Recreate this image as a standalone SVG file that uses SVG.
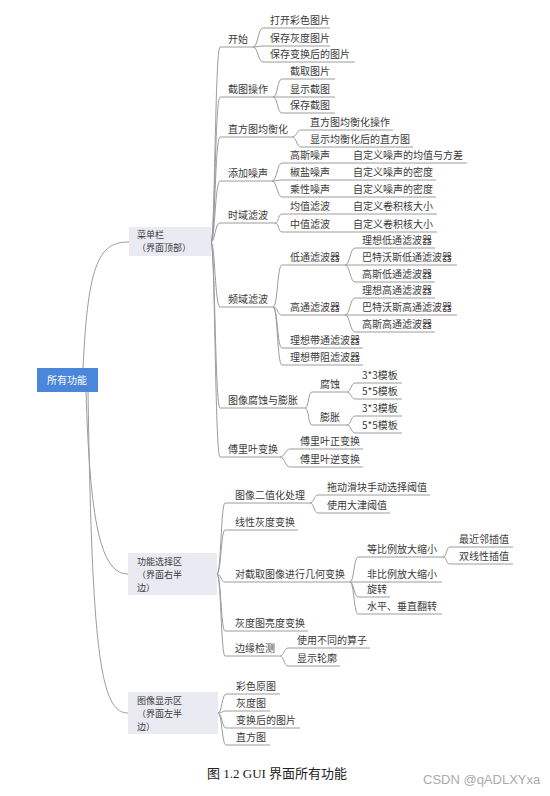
<svg xmlns="http://www.w3.org/2000/svg" width="550" height="796" viewBox="0 0 550 796">
<style>
.t{font-family:"Noto Sans CJK SC","Noto Sans",sans-serif;font-size:10px;fill:#3a3a3a}
.b{font-family:"Noto Sans CJK SC","Noto Sans",sans-serif;font-size:9px;fill:#3a3a3a}
.w{font-family:"Noto Sans CJK SC","Noto Sans",sans-serif;font-size:10px;fill:#ffffff}
.l{fill:none;stroke:#9c9c9c;stroke-width:1}
.box{fill:#e9eaf2}
.cap{font-family:"Liberation Serif","Noto Sans CJK SC",serif;font-size:13px;fill:#222}
.wm{font-family:"Liberation Sans",sans-serif;font-size:13px;fill:#aaaaaa}
</style>
<rect width="550" height="796" fill="#ffffff"/>
<g id="connectors">
<path class="l" d="M83,368 C88,260 100,242 129,242"/>
<path class="l" d="M86,392 C90,520 100,574 128,574"/>
<path class="l" d="M88,392 C92,650 100,713 128,713"/>
<path class="l" d="M211,242 C215,242 215,47 220,47 L253,47"/>
<path class="l" d="M211,242 C215,242 215,97 220,97 L273,97"/>
<path class="l" d="M211,242 C215,242 215,137 220,137 L292,137"/>
<path class="l" d="M211,242 C215,242 215,181 220,181 L272,181"/>
<path class="l" d="M211,242 C215,242 215,223 220,223 L275,223"/>
<path class="l" d="M211,242 C215,242 215,307 220,307 L273,307"/>
<path class="l" d="M211,242 C215,242 215,408 220,408 L305,408"/>
<path class="l" d="M211,242 C215,242 215,457 220,457 L280,457"/>
<path class="l" d="M253,47 C258,47 258,28 263,28 L330,28"/>
<path class="l" d="M253,47 C258,47 258,46 263,46 L330,46"/>
<path class="l" d="M253,47 C258,47 258,62 263,62 L355,62"/>
<path class="l" d="M273,97 C278,97 277,79 282,79 L335,79"/>
<path class="l" d="M273,97 L335,97"/>
<path class="l" d="M273,97 C278,97 277,113 282,113 L335,113"/>
<path class="l" d="M292,137 C297,137 296,130 301,130 L393,130"/>
<path class="l" d="M292,137 C297,137 296,147 301,147 L413,147"/>
<path class="l" d="M272,181 C277,181 277,163 282,163 L467,163"/>
<path class="l" d="M272,181 C277,181 277,180 282,180 L436,180"/>
<path class="l" d="M272,181 C277,181 277,197 282,197 L436,197"/>
<path class="l" d="M275,223 C279,223 278,214 282,214 L437,214"/>
<path class="l" d="M275,223 C279,223 278,232 282,232 L437,232"/>
<path class="l" d="M273,307 C278,307 277,265 282,265 L345,265"/>
<path class="l" d="M273,307 C278,307 277,315 282,315 L345,315"/>
<path class="l" d="M273,307 C278,307 277,348 282,348 L363,348"/>
<path class="l" d="M273,307 C278,307 277,365 282,365 L363,365"/>
<path class="l" d="M345,265 C350,265 350,248 355,248 L435,248"/>
<path class="l" d="M345,265 L457,265"/>
<path class="l" d="M345,265 C350,265 350,282 355,282 L435,282"/>
<path class="l" d="M345,315 C350,315 350,298 355,298 L435,298"/>
<path class="l" d="M345,315 L457,315"/>
<path class="l" d="M345,315 C350,315 350,332 355,332 L435,332"/>
<path class="l" d="M305,408 C309,408 308,392 312,392 L347,392"/>
<path class="l" d="M305,408 C309,408 308,425 312,425 L347,425"/>
<path class="l" d="M347,392 C351,392 351,383 355,383 L402,383"/>
<path class="l" d="M347,392 C351,392 351,399 355,399 L402,399"/>
<path class="l" d="M347,425 C351,425 351,416 355,416 L402,416"/>
<path class="l" d="M347,425 C351,425 351,433 355,433 L402,433"/>
<path class="l" d="M280,457 C285,457 285,449 290,449 L363,449"/>
<path class="l" d="M280,457 C285,457 285,467 290,467 L363,467"/>
<path class="l" d="M217,574 C221,574 221,503 225,503 L310,503"/>
<path class="l" d="M217,574 C221,574 221,530 225,530 L298,530"/>
<path class="l" d="M217,574 C221,574 221,582 225,582 L350,582"/>
<path class="l" d="M217,574 C221,574 221,631 225,631 L308,631"/>
<path class="l" d="M217,574 C221,574 221,656 225,656 L280,656"/>
<path class="l" d="M310,503 C314,503 314,495 318,495 L430,495"/>
<path class="l" d="M310,503 C314,503 314,513 318,513 L390,513"/>
<path class="l" d="M350,582 C354,582 354,557 358,557 L443,557"/>
<path class="l" d="M350,582 L442,582"/>
<path class="l" d="M350,582 C354,582 354,597 358,597 L390,597"/>
<path class="l" d="M350,582 C354,582 354,614 358,614 L442,614"/>
<path class="l" d="M443,557 C447,557 446,547 450,547 L513,547"/>
<path class="l" d="M443,557 C447,557 446,564 450,564 L513,564"/>
<path class="l" d="M280,656 C284,656 284,648 288,648 L370,648"/>
<path class="l" d="M280,656 C284,656 284,666 288,666 L340,666"/>
<path class="l" d="M218,713 C222,713 222,694 226,694 L280,694"/>
<path class="l" d="M218,713 C222,713 222,711 226,711 L270,711"/>
<path class="l" d="M218,713 C222,713 222,728 226,728 L300,728"/>
<path class="l" d="M218,713 C222,713 222,745 226,745 L270,745"/>
</g>
<g id="root"><rect x="37" y="368" width="61" height="24" fill="#4a86d9"/><text class="w" x="47" y="384">所有功能</text></g>
<g id="menubar"><rect class="box" x="129" y="227" width="82" height="29"/><text class="b" x="137" y="238">菜单栏</text><text class="b" x="137" y="251">（界面顶部）</text></g>
<g id="funcarea"><rect class="box" x="128" y="553" width="89" height="42"/><text class="b" x="137" y="565">功能选择区</text><text class="b" x="137" y="578">（界面右半</text><text class="b" x="137" y="591">边）</text></g>
<g id="imgarea"><rect class="box" x="128" y="692" width="90" height="42"/><text class="b" x="137" y="704">图像显示区</text><text class="b" x="137" y="717">（界面左半</text><text class="b" x="137" y="730">边）</text></g>
<g id="n-start"><text class="t" x="228" y="43">开始</text></g>
<g id="n-open"><text class="t" x="270" y="24">打开彩色图片</text></g>
<g id="n-savegray"><text class="t" x="270" y="42">保存灰度图片</text></g>
<g id="n-savetrans"><text class="t" x="270" y="58">保存变换后的图片</text></g>
<g id="n-crop"><text class="t" x="228" y="93">截图操作</text></g>
<g id="n-crop1"><text class="t" x="290" y="75">截取图片</text></g>
<g id="n-crop2"><text class="t" x="290" y="93">显示截图</text></g>
<g id="n-crop3"><text class="t" x="290" y="109">保存截图</text></g>
<g id="n-hist"><text class="t" x="228" y="133">直方图均衡化</text></g>
<g id="n-hist1"><text class="t" x="310" y="126">直方图均衡化操作</text></g>
<g id="n-hist2"><text class="t" x="310" y="143">显示均衡化后的直方图</text></g>
<g id="n-noise"><text class="t" x="228" y="177">添加噪声</text></g>
<g id="n-noise1"><text class="t" x="290" y="159">高斯噪声</text></g>
<g id="n-noise1a"><text class="t" x="353" y="159">自定义噪声的均值与方差</text></g>
<g id="n-noise2"><text class="t" x="290" y="176">椒盐噪声</text></g>
<g id="n-noise2a"><text class="t" x="353" y="176">自定义噪声的密度</text></g>
<g id="n-noise3"><text class="t" x="290" y="193">乘性噪声</text></g>
<g id="n-noise3a"><text class="t" x="353" y="193">自定义噪声的密度</text></g>
<g id="n-time"><text class="t" x="228" y="219">时域滤波</text></g>
<g id="n-time1"><text class="t" x="290" y="210">均值滤波</text></g>
<g id="n-time1a"><text class="t" x="353" y="210">自定义卷积核大小</text></g>
<g id="n-time2"><text class="t" x="290" y="228">中值滤波</text></g>
<g id="n-time2a"><text class="t" x="353" y="228">自定义卷积核大小</text></g>
<g id="n-freq"><text class="t" x="228" y="303">频域滤波</text></g>
<g id="n-low"><text class="t" x="290" y="261">低通滤波器</text></g>
<g id="n-low1"><text class="t" x="362" y="244">理想低通滤波器</text></g>
<g id="n-low2"><text class="t" x="362" y="261">巴特沃斯低通滤波器</text></g>
<g id="n-low3"><text class="t" x="362" y="278">高斯低通滤波器</text></g>
<g id="n-high"><text class="t" x="290" y="311">高通滤波器</text></g>
<g id="n-high1"><text class="t" x="362" y="294">理想高通滤波器</text></g>
<g id="n-high2"><text class="t" x="362" y="311">巴特沃斯高通滤波器</text></g>
<g id="n-high3"><text class="t" x="362" y="328">高斯高通滤波器</text></g>
<g id="n-bandpass"><text class="t" x="290" y="344">理想带通滤波器</text></g>
<g id="n-bandstop"><text class="t" x="290" y="361">理想带阻滤波器</text></g>
<g id="n-morph"><text class="t" x="228" y="404">图像腐蚀与膨胀</text></g>
<g id="n-erode"><text class="t" x="320" y="388">腐蚀</text></g>
<g id="n-erode1"><text class="t" x="362" y="379">3*3模板</text></g>
<g id="n-erode2"><text class="t" x="362" y="395">5*5模板</text></g>
<g id="n-dilate"><text class="t" x="320" y="421">膨胀</text></g>
<g id="n-dilate1"><text class="t" x="362" y="412">3*3模板</text></g>
<g id="n-dilate2"><text class="t" x="362" y="429">5*5模板</text></g>
<g id="n-fourier"><text class="t" x="228" y="453">傅里叶变换</text></g>
<g id="n-fourier1"><text class="t" x="300" y="445">傅里叶正变换</text></g>
<g id="n-fourier2"><text class="t" x="300" y="463">傅里叶逆变换</text></g>
<g id="n-bin"><text class="t" x="235" y="499">图像二值化处理</text></g>
<g id="n-bin1"><text class="t" x="327" y="491">拖动滑块手动选择阈值</text></g>
<g id="n-bin2"><text class="t" x="327" y="509">使用大津阈值</text></g>
<g id="n-linear"><text class="t" x="235" y="526">线性灰度变换</text></g>
<g id="n-geo"><text class="t" x="235" y="578">对截取图像进行几何变换</text></g>
<g id="n-geo1"><text class="t" x="367" y="553">等比例放大缩小</text></g>
<g id="n-geo1a"><text class="t" x="459" y="543">最近邻插值</text></g>
<g id="n-geo1b"><text class="t" x="459" y="560">双线性插值</text></g>
<g id="n-geo2"><text class="t" x="367" y="578">非比例放大缩小</text></g>
<g id="n-geo3"><text class="t" x="367" y="593">旋转</text></g>
<g id="n-geo4"><text class="t" x="367" y="610">水平、垂直翻转</text></g>
<g id="n-bright"><text class="t" x="235" y="627">灰度图亮度变换</text></g>
<g id="n-edge"><text class="t" x="235" y="652">边缘检测</text></g>
<g id="n-edge1"><text class="t" x="297" y="644">使用不同的算子</text></g>
<g id="n-edge2"><text class="t" x="297" y="662">显示轮廓</text></g>
<g id="n-color"><text class="t" x="236" y="690">彩色原图</text></g>
<g id="n-gray"><text class="t" x="236" y="707">灰度图</text></g>
<g id="n-trans"><text class="t" x="236" y="724">变换后的图片</text></g>
<g id="n-histo"><text class="t" x="236" y="741">直方图</text></g>
<text class="cap" x="207" y="778">图 1.2 GUI 界面所有功能</text>
<text class="wm" x="423" y="784">CSDN @qADLXYxa</text>
</svg>
